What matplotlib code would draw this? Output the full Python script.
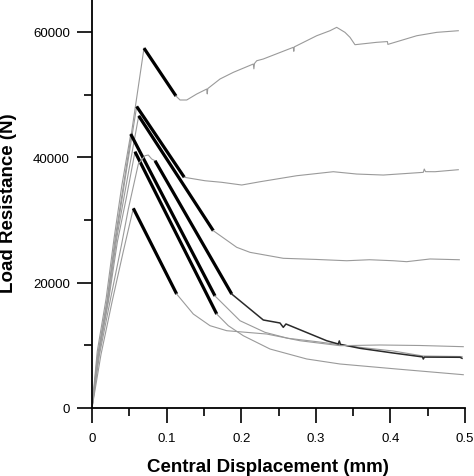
import matplotlib
matplotlib.use("Agg")
import matplotlib.pyplot as plt
from matplotlib.ticker import MultipleLocator
import matplotlib.font_manager as fm

# ---------------- data (displacement in mm, load in N) ----------------
# Each specimen: pre-peak/peak gray trace, thick black drop, post gray trace
a_pre_x = [0, 0.007, 0.020, 0.031, 0.050, 0.0697]
a_pre_y = [0, 8000, 17000, 27000, 41500, 57400]
a_post_x = [0.1126, 0.118, 0.127, 0.1403, 0.1538, 0.1545, 0.1552, 0.1716, 0.1894, 0.2162, 0.217, 0.2178,
            0.2208, 0.2296, 0.2698, 0.2705, 0.2712, 0.3012, 0.319, 0.328, 0.3391, 0.3458, 0.3525, 0.3816,
            0.3960, 0.3966, 0.4129, 0.4353, 0.4621, 0.491]
a_post_y = [49760, 49130, 49130, 50080, 50880, 50100, 50950, 52480, 53540, 54870, 54100, 54950,
            55390, 55670, 57530, 56900, 57600, 59380, 60180, 60720, 59920, 59130, 57950, 58330,
            58450, 58000, 58580, 59380, 59920, 60180]

b_pre_x = [0, 0.008, 0.021, 0.032, 0.045, 0.0599]
b_pre_y = [0, 8500, 17500, 27000, 37000, 48100]
b_post_x = [0.1237, 0.1515, 0.1739, 0.2007, 0.2252, 0.2744, 0.3235, 0.3548, 0.3905, 0.4441, 0.4454,
            0.4470, 0.4598, 0.491]
b_post_y = [36800, 36250, 36000, 35570, 36090, 37050, 37690, 37320, 37160, 37590, 38120,
            37700, 37690, 38010]

c_pre_x = [0, 0.009, 0.022, 0.033, 0.048, 0.0626]
c_pre_y = [0, 8500, 17500, 27000, 37000, 46600]
c_post_x = [0.1626, 0.194, 0.2118, 0.2564, 0.3000, 0.3414, 0.3720, 0.4039, 0.4218, 0.4531, 0.4924]
c_post_y = [28280, 25630, 24830, 23880, 23700, 23490, 23650, 23490, 23340, 23770, 23650]

d_pre_x = [0, 0.007, 0.019, 0.0295, 0.040, 0.0519]
d_pre_y = [0, 9000, 17500, 27000, 35500, 43700]
d_post_x = [0.1649, 0.1984, 0.2319, 0.2627, 0.3012, 0.3592, 0.4039, 0.4441, 0.4960]
d_post_y = [17870, 13920, 12070, 11120, 10580, 9680, 9090, 8290, 8210]

e_pre_x = [0, 0.008, 0.022, 0.034, 0.046, 0.0576]
e_pre_y = [0, 8000, 17000, 26500, 33500, 40880]
e_post_x = [0.1672, 0.1827, 0.2028, 0.2386, 0.2878, 0.3324, 0.4084, 0.4977]
e_post_y = [14990, 13130, 11530, 9410, 7820, 7020, 6220, 5310]

f_pre_x = [0, 0.010, 0.025, 0.0395, 0.0487, 0.0621, 0.071, 0.0755, 0.080, 0.0845]
f_pre_y = [0, 8500, 17500, 26000, 31740, 38920, 40240, 40350, 39720, 39440]
f_post_x = [0.1873, 0.2296, 0.2520, 0.2564, 0.2600, 0.3146, 0.3301, 0.3315, 0.3330, 0.3592, 0.4039,
            0.4430, 0.4441, 0.4455, 0.4933, 0.4960]
f_post_y = [18180, 14040, 13560, 12870, 13400, 10730, 10210, 10700, 10150, 9520, 8770,
            8150, 7810, 8120, 8090, 7930]

g_pre_x = [0, 0.012, 0.027, 0.042, 0.0554]
g_pre_y = [0, 8500, 17000, 25000, 31850]
g_post_x = [0.1135, 0.1358, 0.1582, 0.1806, 0.2342, 0.2788, 0.3324, 0.3861, 0.4397, 0.4977]
g_post_y = [18180, 14990, 13130, 12330, 11800, 10730, 9940, 10050, 9970, 9780]

x_ticks = [0, 0.1, 0.2, 0.3, 0.4, 0.5]
x_tick_labels = ["0", "0.1", "0.2", "0.3", "0.4", "0.5"]
y_ticks = [0, 20000, 40000, 60000]
y_tick_labels = ["0", "20000", "40000", "60000"]

GRAY = "#9a9a9a"
DARK = "#2a2a2a"
specimens = [
    (a_pre_x, a_pre_y, a_post_x, a_post_y, GRAY),
    (b_pre_x, b_pre_y, b_post_x, b_post_y, GRAY),
    (c_pre_x, c_pre_y, c_post_x, c_post_y, GRAY),
    (d_pre_x, d_pre_y, d_post_x, d_post_y, GRAY),
    (e_pre_x, e_pre_y, e_post_x, e_post_y, GRAY),
    (f_pre_x, f_pre_y, f_post_x, f_post_y, DARK),
    (g_pre_x, g_pre_y, g_post_x, g_post_y, GRAY),
]

# ---------------- figure ----------------
names = {f.name for f in fm.fontManager.ttflist}
tick_font = "Liberation Sans" if "Liberation Sans" in names else "DejaVu Sans"

fig = plt.figure(figsize=(4.74, 4.77), dpi=100)
ax = fig.add_axes([92 / 474, 1 - 409 / 477, 373 / 474, 409 / 477])

for pre_x, pre_y, post_x, post_y, post_col in specimens:
    ax.plot(pre_x, pre_y, color=GRAY, lw=0.8, solid_joinstyle="round")
    ax.plot([pre_x[-1], post_x[0]], [pre_y[-1], post_y[0]], color="black", lw=2.3,
            solid_capstyle="butt")
    ax.plot(post_x, post_y, color=post_col, lw=0.8 if post_col == GRAY else 1.1)

ax.set_xlim(0, 0.5)
ax.set_ylim(0, 65240)
ax.spines["top"].set_visible(False)
ax.spines["right"].set_visible(False)
for s in ("left", "bottom"):
    ax.spines[s].set_linewidth(1.3)

ax.set_xticks(x_ticks)
ax.set_xticklabels(x_tick_labels)
ax.set_yticks(y_ticks)
ax.set_yticklabels(y_tick_labels)
ax.xaxis.set_minor_locator(MultipleLocator(0.05))
ax.yaxis.set_minor_locator(MultipleLocator(10000))
ax.tick_params(axis="both", which="major", direction="out", length=11, width=1.2,
               labelsize=9.5, color="black")
ax.tick_params(axis="x", which="major", pad=6.5)
ax.tick_params(axis="y", which="major", pad=5)
ax.tick_params(axis="both", which="minor", direction="out", length=6, width=1.2)
for lab in ax.get_xticklabels() + ax.get_yticklabels():
    lab.set_fontfamily(tick_font)

fig.text(268 / 474, 1 - 472 / 477, "Central Displacement (mm)", ha="center", va="baseline",
         fontsize=13.5, fontweight="bold", family=[tick_font, "DejaVu Sans"])
fig.text(9 / 474, 1 - 203.5 / 477, "Load Resistance (N)", ha="center", va="center",
         rotation=90, fontsize=13.5, fontweight="bold", family=[tick_font, "DejaVu Sans"])

fig.savefig("out.png", dpi=100)
